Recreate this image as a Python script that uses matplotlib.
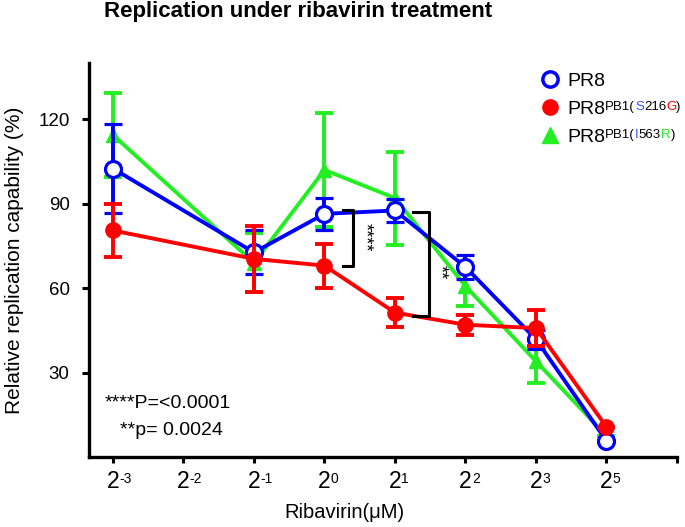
import numpy as np
import matplotlib
matplotlib.use('Agg')
import matplotlib.pyplot as plt
from matplotlib.lines import Line2D

plt.rcParams['font.family'] = ['Liberation Sans', 'DejaVu Sans']

# ribavirin doses (powers of 2), one category each on the x axis
tick_base = ['2'] * 8
tick_exp = ['-3', '-2', '-1', '0', '1', '2', '3', '5']
dose_idx = [0, 2, 3, 4, 5, 6, 7]   # no measurement at 2^-2

pr8_mean = [102.5, 72.7, 86.4, 87.6, 67.5, 41.8, 5.7]
pr8_err = [15.8, 7.8, 5.7, 4.0, 4.2, 3.5, 0.0]
s216g_mean = [80.5, 70.4, 68.0, 51.3, 47.0, 45.8, 10.7]
s216g_err = [9.3, 11.6, 7.8, 5.2, 3.5, 6.5, 0.0]
i563r_mean = [114.4, 69.0, 102.0, 92.0, 60.7, 34.0, 7.5]
i563r_err = [15.0, 10.5, 20.3, 16.5, 7.0, 7.6, 0.0]

blue = '#0000ff'
red = '#ff0000'
green = '#22ee22'

fig = plt.figure(figsize=(6.85, 5.27), dpi=100)
ax = fig.add_axes([89/685, 1 - 457/527, (677 - 89)/685, (457 - 63)/527])

lw = 2.8
ax.errorbar(dose_idx, i563r_mean, yerr=i563r_err, fmt='-^', color=green, lw=lw,
            elinewidth=lw, capsize=6.5, capthick=lw, ms=10, zorder=2)
ax.errorbar(dose_idx, pr8_mean, yerr=pr8_err, fmt='-o', color=blue, lw=lw,
            elinewidth=lw, capsize=6.5, capthick=lw, ms=11.5, mfc='white',
            mec=blue, mew=2.3, zorder=3)
ax.errorbar(dose_idx, s216g_mean, yerr=s216g_err, fmt='-o', color=red, lw=lw,
            elinewidth=lw, capsize=6.5, capthick=lw, ms=11, zorder=4)

# significance brackets
ax.plot([3.26, 3.40, 3.40, 3.26], [87.9, 87.9, 67.9, 67.9], color='black', lw=2.2, zorder=5)
ax.plot([4.25, 4.48, 4.48, 4.25], [87.1, 87.1, 50.0, 50.0], color='black', lw=2.2, zorder=5)
ax.text(3.57, 78.2, '****', rotation=-90, ha='center', va='center', fontsize=13)
ax.text(4.64, 65.7, '**', rotation=-90, ha='center', va='center', fontsize=13)

ax.text(0.776, 17.5, '****P=<0.0001', ha='center', va='baseline', fontsize=14)
ax.text(0.833, 7.9, '**p= 0.0024', ha='center', va='baseline', fontsize=14)

ax.set_xlim(-0.34, 8.0)
ax.set_ylim(0, 140)
ax.set_xticks(list(range(8)) + [8])
ax.set_xticklabels(tick_base + [''])
ax.set_yticks([30, 60, 90, 120])
for s in ['top', 'right']:
    ax.spines[s].set_visible(False)
for s in ['left', 'bottom']:
    ax.spines[s].set_linewidth(2.4)
ax.tick_params(axis='y', length=5, width=2.2, labelsize=13.5, pad=9)
ax.tick_params(axis='x', length=4, width=2.2, labelsize=16.5, pad=5)
ax.set_ylabel('Relative replication capability (%)', fontsize=15, labelpad=10)
fig.text(344/685, 1 - 512/527, 'Ribavirin(\u03bcM)', ha='center', va='center', fontsize=14.5)
fig.text(298/685, 1 - 11/527, 'Replication under ribavirin treatment', ha='center',
         va='center', fontsize=16, fontweight='bold')

# exponents next to the "2" of every tick label
for lab, e in zip(ax.get_xticklabels()[:8], tick_exp):
    ax.annotate(e, xy=(1.0, 0.9), xycoords=lab, ha='left', va='top', fontsize=10,
                zorder=10, annotation_clip=False)

handles = [
    Line2D([], [], ls='none', marker='o', ms=11, mfc='white', mec=blue, mew=2.5),
    Line2D([], [], ls='none', marker='o', ms=11, color=red),
    Line2D([], [], ls='none', marker='^', ms=11, color=green),
]
leg = ax.legend(handles, ['PR8', 'PR8', 'PR8'], loc='upper left',
                bbox_to_anchor=(540/685, 1 - 72/527), bbox_transform=fig.transFigure,
                frameon=False, fontsize=14, handlelength=1.0, handletextpad=0.4,
                labelspacing=0.55, borderpad=0, borderaxespad=0)

sup_parts = [
    [('PB1(', 'black'), ('S', '#3355ff'), ('216', 'black'), ('G', red), (')', 'black')],
    [('PB1(', 'black'), ('I', '#3355ff'), ('563', 'black'), ('R', green), (')', 'black')],
]
for txt, parts in zip(leg.get_texts()[1:], sup_parts):
    prev = txt
    for i, (s, c) in enumerate(parts):
        if i == 0:
            prev = ax.annotate(s, xy=(1, 1.0), xycoords=prev, ha='left', va='top',
                               fontsize=9.5, color=c, zorder=10, annotation_clip=False)
        else:
            prev = ax.annotate(s, xy=(1, 0), xycoords=prev, ha='left', va='bottom',
                               fontsize=9.5, color=c, zorder=10, annotation_clip=False)

fig.savefig('out.png', dpi=100)
